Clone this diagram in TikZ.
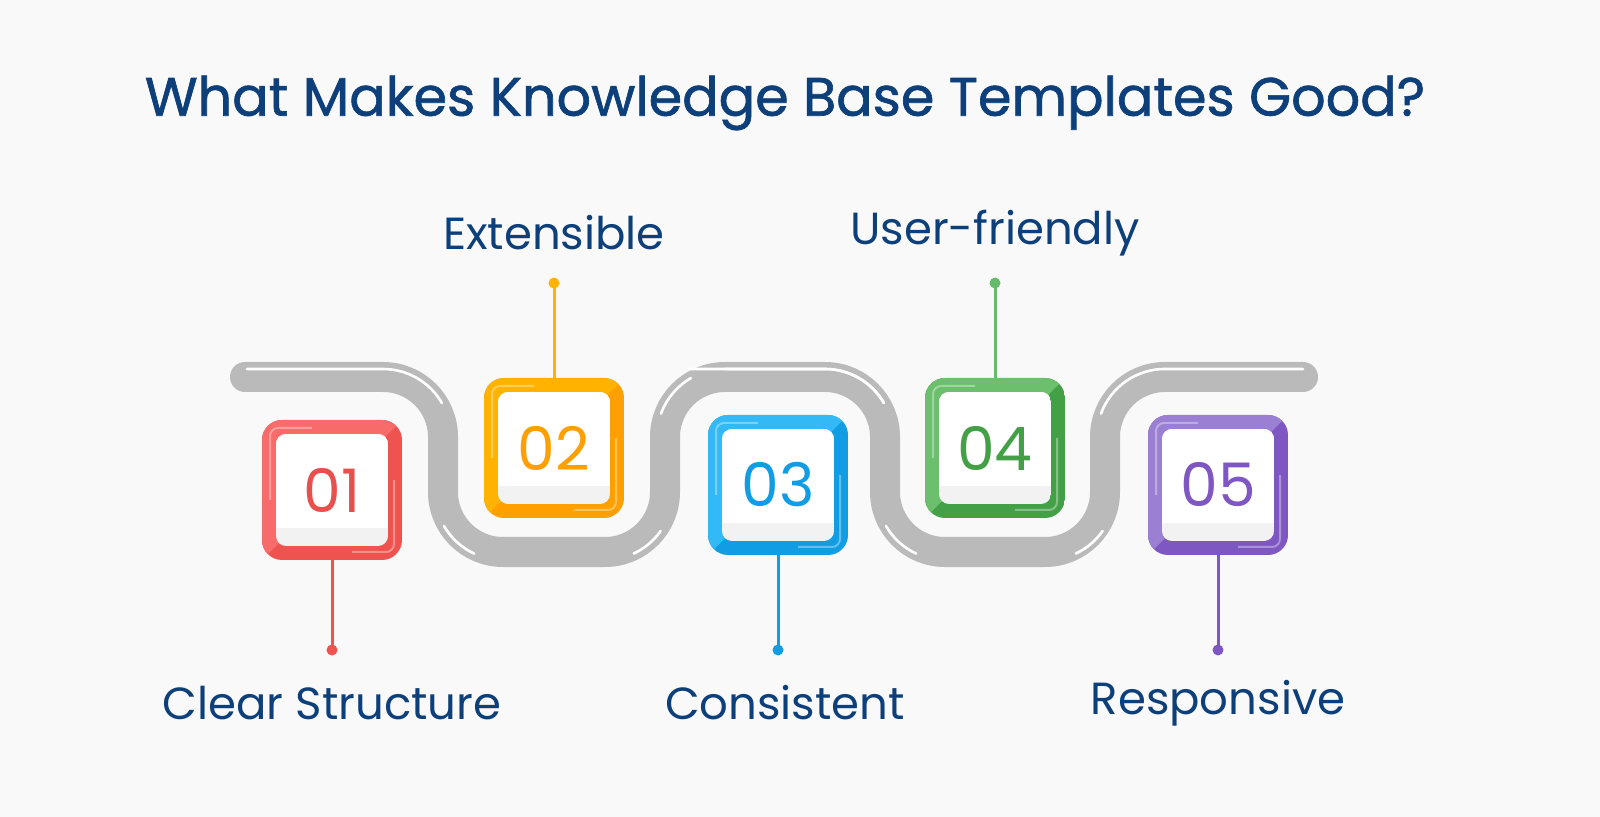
\documentclass[tikz,border=0pt]{standalone}
\usepackage{fontspec}
\setmainfont{Poppins}
\newfontfamily\titlefont[FakeBold=1.2]{Poppins}
\begin{document}
\begin{tikzpicture}[x=0.5pt,y=-0.5pt,
  lbl/.style={text=navy,font=\fontsize{22.5}{25}\selectfont,inner sep=0},
  num/.style={font=\fontsize{30}{32}\selectfont,inner sep=0},
  stem/.style={line width=1.5pt},
  road/.style={line width=15pt,draw=roadgray,line cap=round,rounded corners=30pt},
  shine/.style={line width=1.3pt,draw=white,line cap=round}]
\definecolor{navy}{HTML}{0D3F7A}
\definecolor{roadgray}{HTML}{BABABA}
\definecolor{bg}{HTML}{F9F9F9}
\fill[bg] (0,0) rectangle (1600,817);
\node[text=navy,font=\titlefont\fontsize{27}{30}\selectfont,inner sep=0] (title) at (785,103) {What Makes Knowledge Base Templates Good?};
% road
\draw[road] (245,377) -- (443,377) -- (443,552) -- (665,552) -- (665,377) -- (885,377) -- (885,552) -- (1105,552) -- (1105,377) -- (1303,377);
% shines
\foreach \a/\b in {0/0,442/440}{
 \draw[shine] (247+\a,369) -- (383+\a,369) arc[start angle=270,end angle=330,radius=68];
 \draw[shine] (444+\a,526) arc[start angle=150,end angle=115,radius=68];
 \draw[shine] (633.7+\a,553.6) arc[start angle=65,end angle=35,radius=68];
}
\draw[shine] (661,413.7) arc[start angle=200,end angle=240,radius=68];
\draw[shine] (725,369) -- (825,369) arc[start angle=270,end angle=330,radius=68];
\draw[shine] (1101,413.7) arc[start angle=200,end angle=270,radius=68] -- (1303,369);
% boxes
\foreach \n/\cx/\cy/\lc/\dc/\tc in {1/332/490/F76B6B/EF5350/E8504D,2/554/448/FFB300/FFA000/FFA000,3/778/485/33B9F5/109DE3/109DE3,4/995/448/6CBF6C/43A047/43A047,5/1218/485/9B7FD3/7E57C2/7E57C2}{
  \definecolor{lc}{HTML}{\lc}\definecolor{dc}{HTML}{\dc}\definecolor{tc}{HTML}{\tc}
  \begin{scope}
   \clip[rounded corners=10pt] (\cx-70,\cy-70) rectangle (\cx+70,\cy+70);
   \fill[dc] (\cx-70,\cy-70) rectangle (\cx+70,\cy+70);
   \fill[lc] (\cx-70,\cy-70) -- (\cx+70,\cy-70) -- (\cx-70,\cy+70) -- cycle;
  \end{scope}
  \begin{scope}
   \clip[rounded corners=5pt] (\cx-56,\cy-56) rectangle (\cx+56,\cy+56);
   \fill[black!5] (\cx-56,\cy-56) rectangle (\cx+56,\cy+56);
   \fill[white] (\cx-56,\cy-56) rectangle (\cx+56,\cy+38);
  \end{scope}
  \draw[white,opacity=0.35,line width=1pt,rounded corners=4pt] (\cx-62,\cy+10) -- (\cx-62,\cy-62) -- (\cx-20,\cy-62);
  \draw[white,opacity=0.35,line width=1pt,rounded corners=4pt] (\cx+62,\cy-10) -- (\cx+62,\cy+62) -- (\cx+20,\cy+62);
  \node[num,text=tc] (n\n) at (\cx,\cy) {0\n};
}
% stems and labels
\definecolor{c1}{HTML}{EF5350}\definecolor{c2}{HTML}{FFB300}\definecolor{c3}{HTML}{109DE3}\definecolor{c4}{HTML}{66BB6A}\definecolor{c5}{HTML}{7E57C2}
\coordinate (b1) at (332,560); \coordinate (d1) at (332,650);
\coordinate (b2) at (554,378); \coordinate (d2) at (554,283);
\coordinate (b3) at (778,555); \coordinate (d3) at (778,650);
\coordinate (b4) at (995,378); \coordinate (d4) at (995,283);
\coordinate (b5) at (1218,555); \coordinate (d5) at (1218,650);
\foreach \i in {1,...,5}{
  \draw[stem,c\i] (b\i) -- (d\i);
  \fill[c\i] (d\i) circle (5.5);
}
\node[lbl] (l1) at (332,703) {Clear Structure};
\node[lbl] (l2) at (554,233) {Extensible};
\node[lbl] (l3) at (785,703) {Consistent};
\node[lbl] (l4) at (995,233) {User-friendly};
\node[lbl] (l5) at (1218,703) {Responsive};
\pgfresetboundingbox
\useasboundingbox (0,0) rectangle (1600,817);
\end{tikzpicture}
\end{document}
